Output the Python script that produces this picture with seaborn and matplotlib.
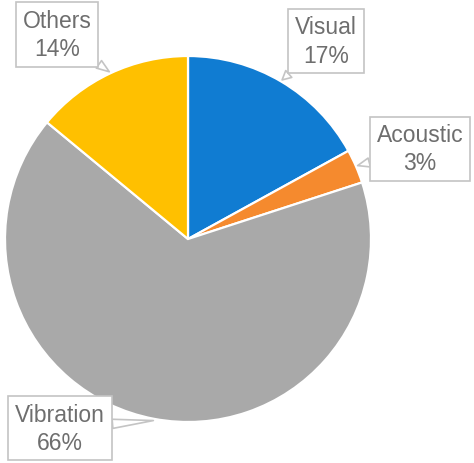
import numpy as np
import matplotlib
matplotlib.use("Agg")
import matplotlib.pyplot as plt
import seaborn as sns

# data
categories = ["Visual", "Acoustic", "Vibration", "Others"]
shares = [17, 3, 66, 14]
slice_colors = ["#107CD2", "#F58A2E", "#A9A9A9", "#FFC000"]
# where each callout box sits (data units, pie radius = 1)
label_pos = [(0.754, 1.082), (1.268, 0.492), (-0.699, -1.033), (-0.716, 1.118)]

sns.set_style("white")
plt.rcParams["font.family"] = ["Liberation Sans", "DejaVu Sans"]

fig = plt.figure(figsize=(4.74, 4.64), dpi=100)
ax = fig.add_axes([5 / 474, 41 / 464, 366 / 474, 366 / 464])

wedges, _ = ax.pie(shares, colors=slice_colors, startangle=90, counterclock=False,
                   wedgeprops=dict(edgecolor="white", linewidth=1.6))
ax.set_xlim(-1, 1)
ax.set_ylim(-1, 1)
ax.set_aspect("equal")
ax.axis("off")

# callouts
for w, name, val, (tx, ty) in zip(wedges, categories, shares, label_pos):
    mid = np.deg2rad((w.theta1 + w.theta2) / 2)
    tip = (1.01 * np.cos(mid), 1.01 * np.sin(mid))
    ax.annotate(f"{name}\n{val}%", xy=tip, xytext=(tx, ty),
                ha="center", va="center", multialignment="center",
                fontsize=16.5, color="#6E6E6E", linespacing=1.28,
                annotation_clip=False,
                bbox=dict(boxstyle="square,pad=0.3", fc="white", ec="#C4C4C4", lw=1.2),
                arrowprops=dict(arrowstyle="wedge,tail_width=0.4", fc="white",
                                ec="#C4C4C4", lw=1.2, shrinkA=0, shrinkB=0))

fig.savefig("out.png", dpi=100)
